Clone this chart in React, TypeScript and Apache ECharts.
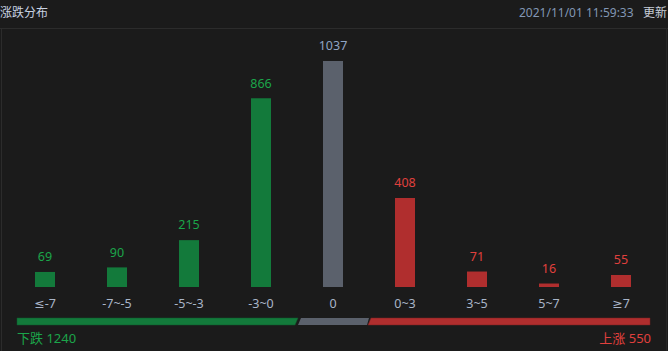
import React, { useEffect, useRef } from "react";
import * as echarts from "echarts";

const categories = ["≤-7", "-7~-5", "-5~-3", "-3~0", "0", "0~3", "3~5", "5~7", "≥7"];
const counts = [69, 90, 215, 866, 1037, 408, 71, 16, 55];
const kinds = ["down", "down", "down", "down", "flat", "up", "up", "up", "up"];
const downTotal = 1240;
const upTotal = 550;
const titleText = "涨跌分布";
const timeText = "2021/11/01 11:59:33";

const barColor: Record<string, string> = { down: "#137a3b", flat: "#5b616c", up: "#b02e2e" };
const labelColor: Record<string, string> = { down: "#1ba54a", flat: "#8fa4c4", up: "#e0403d" };

export default function App() {
  const ref = useRef<HTMLDivElement>(null);
  useEffect(() => {
    const chart = echarts.init(ref.current!, null, { renderer: "svg" });
    const font = "'Noto Sans', 'DejaVu Sans', 'Noto Sans CJK SC', sans-serif";
    const yTop = 318;
    const yBot = 325;
    chart.setOption({
      animation: false,
      backgroundColor: "#1b1b1b",
      textStyle: { fontFamily: font },
      grid: { left: 9, right: 11, top: 61, bottom: 64 },
      xAxis: {
        type: "category",
        data: categories,
        axisLine: { show: false },
        axisTick: { show: false },
        axisLabel: { color: "#a9b5c8", fontSize: 12.5, margin: 10, fontFamily: font },
      },
      yAxis: { type: "value", min: 0, max: 1037, show: false, splitLine: { show: false } },
      series: [
        {
          type: "bar",
          barWidth: 20,
          data: counts.map((v, i) => ({
            value: v,
            itemStyle: { color: barColor[kinds[i]] },
            label: { color: labelColor[kinds[i]] },
          })),
          label: { show: true, position: "top", distance: 9, fontSize: 12.5, fontFamily: font },
        },
      ],
      graphic: [
        { type: "rect", shape: { x: 0, y: 0, width: 668, height: 28 }, style: { fill: "#1b1b1b" }, silent: true },
        { type: "line", shape: { x1: 0, y1: 28.5, x2: 668, y2: 28.5 }, style: { stroke: "#2c2c2c", lineWidth: 1 } },
        { type: "line", shape: { x1: 1.5, y1: 28, x2: 1.5, y2: 351 }, style: { stroke: "#2c2c2c", lineWidth: 1 } },
        { type: "line", shape: { x1: 666.5, y1: 28, x2: 666.5, y2: 351 }, style: { stroke: "#262626", lineWidth: 1 } },
        { type: "text", left: 0, top: 6, style: { text: titleText, fill: "#c9d3e3", fontSize: 12, fontFamily: font } },
        { type: "text", left: 519, top: 6, style: { text: timeText, fill: "#8297b5", fontSize: 12, fontFamily: font } },
        { type: "text", left: 643, top: 6, style: { text: "更新", fill: "#c6ccd6", fontSize: 12, fontFamily: font } },
        {
          type: "polygon",
          shape: { points: [[17, yTop], [298, yTop], [295, yBot], [17, yBot]] },
          style: { fill: "#137a3b", stroke: "#0f5a2c", lineWidth: 0.5 },
        },
        {
          type: "polygon",
          shape: { points: [[301, yTop], [369, yTop], [367, yBot], [298, yBot]] },
          style: { fill: "#5b616c" },
        },
        {
          type: "polygon",
          shape: { points: [[371, yTop], [650, yTop], [650, yBot], [368, yBot]] },
          style: { fill: "#b02e2e", stroke: "#7a2222", lineWidth: 0.5 },
        },
        { type: "text", left: 17, top: 331, style: { text: "下跌 " + downTotal, fill: "#1ba54a", fontSize: 13, fontFamily: font } },
        {
          type: "text",
          right: 17,
          top: 331,
          style: { text: "上涨 " + upTotal, fill: "#e0403d", fontSize: 13, fontFamily: font },
        },
      ],
    });
    return () => chart.dispose();
  }, []);
  return (
    <div
      ref={ref}
      style={{ position: "absolute", left: 0, top: 0, width: 668, height: 351 }}
    />
  );
}
